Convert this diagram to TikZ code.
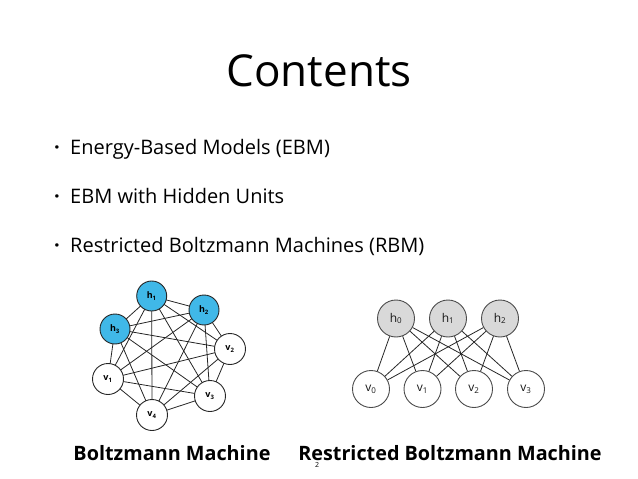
\documentclass[tikz,border=0pt]{standalone}
\usepackage{fontspec}
\setmainfont{Open Sans}
\definecolor{hblue}{RGB}{64,184,232}
\begin{document}
\begin{tikzpicture}[x=1pt,y=-1pt,
 ttl/.style={font=\fontsize{44}{50}\selectfont,anchor=base},
 itm/.style={font=\fontsize{20}{24}\selectfont,anchor=base west,inner sep=0pt},
 capt/.style={font=\fontsize{19.8}{24}\selectfont\bfseries,anchor=base},
 bmh/.style={circle,draw=black!85,line width=0.9pt,fill=hblue,minimum size=30pt,inner sep=0pt,font=\small\bfseries},
 bmv/.style={circle,draw=black!85,line width=0.9pt,fill=white,minimum size=31pt,inner sep=0pt,font=\small\bfseries},
 rbh/.style={circle,draw=black!70,line width=0.9pt,fill=black!15,minimum size=37pt,inner sep=0pt,font=\large,text=black!90},
 rbv/.style={circle,draw=black!70,line width=0.9pt,fill=white,minimum size=37pt,inner sep=0pt,font=\large,text=black!90},
 lnk/.style={black!85,line width=0.8pt}]
\useasboundingbox (0,0) rectangle (638,479);
% title and list
\node[ttl] (title) at (319,86) {Contents};
\foreach \t [count=\i] in {Energy-Based Models (EBM),EBM with Hidden Units,Restricted Boltzmann Machines (RBM)} {
 \node[itm] (dot\i) at (54,105+49*\i) {\textbf{·}};
 \node[itm] (item\i) at (70,105+49*\i) {\t};
}
% Boltzmann machine
\coordinate (pH1) at (151.7,296);
\coordinate (pH2) at (204,310);
\coordinate (pH3) at (115,329);
\coordinate (pV2) at (230,349);
\coordinate (pV1) at (108,379);
\coordinate (pV3) at (210,396);
\coordinate (pV4) at (152,415);
\foreach \a/\b in {H1/H2,H1/H3,H1/V1,H1/V2,H1/V3,H1/V4,H2/H3,H2/V1,H2/V2,H2/V3,H2/V4,
 H3/V1,H3/V2,H3/V3,H3/V4,V1/V2,V1/V3,V1/V4,V2/V3,V2/V4,V3/V4}
 \draw[lnk] (p\a) -- (p\b);
\node[bmh] (h1) at (pH1) {h\textsubscript{1}};
\node[bmh] (h2) at (pH2) {h\textsubscript{2}};
\node[bmh] (h3) at (pH3) {h\textsubscript{3}};
\node[bmv] (v2) at (pV2) {v\textsubscript{2}};
\node[bmv] (v1) at (pV1) {v\textsubscript{1}};
\node[bmv] (v3) at (pV3) {v\textsubscript{3}};
\node[bmv] (v4) at (pV4) {v\textsubscript{4}};
% restricted Boltzmann machine
\foreach \i/\x in {0/396,1/448,2/500}
 \node[rbh] (rh\i) at (\x,318.5) {h\textsubscript{\i}};
\foreach \i/\x in {0/371,1/422.5,2/474,3/526}
 \node[rbv] (rv\i) at (\x,389) {v\textsubscript{\i}};
\foreach \i in {0,1,2}
 \foreach \j in {0,1,2,3}
  \draw[lnk] (rh\i) -- (rv\j);
% captions
\node[capt] (bmcap) at (172,460) {Boltzmann Machine};
\node[capt] (rbcap) at (450,460) {Restricted Boltzmann Machine};
\node[font=\scriptsize,anchor=base] (page) at (317,467) {2};
\end{tikzpicture}
\end{document}
